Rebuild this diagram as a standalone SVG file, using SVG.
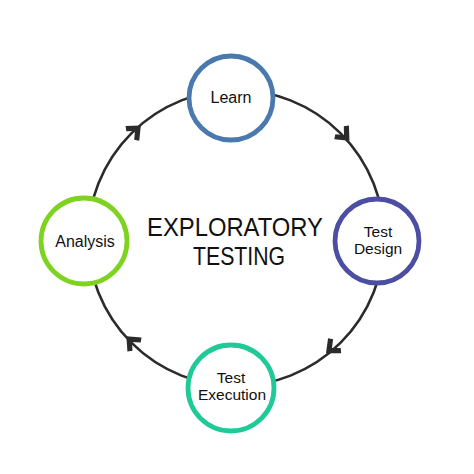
<svg xmlns="http://www.w3.org/2000/svg" width="474" height="474" viewBox="0 0 474 474">
  <defs>
    <style>
      .ring { fill: none; stroke: #2b2b2b; stroke-width: 2.6; }
      .node { fill: #ffffff; stroke-width: 4.8; }
      .lbl { font-family: "Liberation Sans", Arial, sans-serif; font-size: 16px; fill: #111111; text-anchor: middle; }
      .lbl2 { font-family: "Liberation Sans", Arial, sans-serif; font-size: 15.5px; fill: #111111; text-anchor: middle; }
      .title { font-family: "Liberation Sans", Arial, sans-serif; font-size: 25px; fill: #111111; text-anchor: middle; }
      .chev { fill: #2b2b2b; }
    </style>
    <polygon id="chevron" points="8,0 -3.5,-10 -6.5,-5.8 0,0 -6.5,5.8 -3.5,10"/>
  </defs>
  <rect width="474" height="474" fill="#ffffff"/>
  <g id="connectors">
    <circle class="ring" cx="236" cy="238" r="148"/>
    <use href="#chevron" class="chev" transform="translate(135,131) rotate(-43)"/>
    <use href="#chevron" class="chev" transform="translate(344,135) rotate(47)"/>
    <use href="#chevron" class="chev" transform="translate(332,348) rotate(139)"/>
    <use href="#chevron" class="chev" transform="translate(132,342) rotate(-135)"/>
  </g>
  <g id="title">
    <text class="title" x="235" y="236" textLength="176" lengthAdjust="spacingAndGlyphs">EXPLORATORY</text>
    <text class="title" x="239" y="265" textLength="92" lengthAdjust="spacingAndGlyphs">TESTING</text>
  </g>
  <g id="learn">
    <circle class="node" cx="231" cy="98" r="42" stroke="#4a7aad"/>
    <text class="lbl" x="231" y="103">Learn</text>
  </g>
  <g id="test-design">
    <circle class="node" cx="377" cy="241" r="42" stroke="#4b4ea3"/>
    <text class="lbl2" x="378" y="237">Test</text>
    <text class="lbl2" x="378" y="254">Design</text>
  </g>
  <g id="test-execution">
    <circle class="node" cx="231" cy="388" r="43" stroke="#1fca98"/>
    <text class="lbl2" x="231" y="383">Test</text>
    <text class="lbl2" x="232" y="400">Execution</text>
  </g>
  <g id="analysis">
    <circle class="node" cx="84" cy="241" r="43" stroke="#7ed321"/>
    <text class="lbl" x="85" y="247">Analysis</text>
  </g>
</svg>
